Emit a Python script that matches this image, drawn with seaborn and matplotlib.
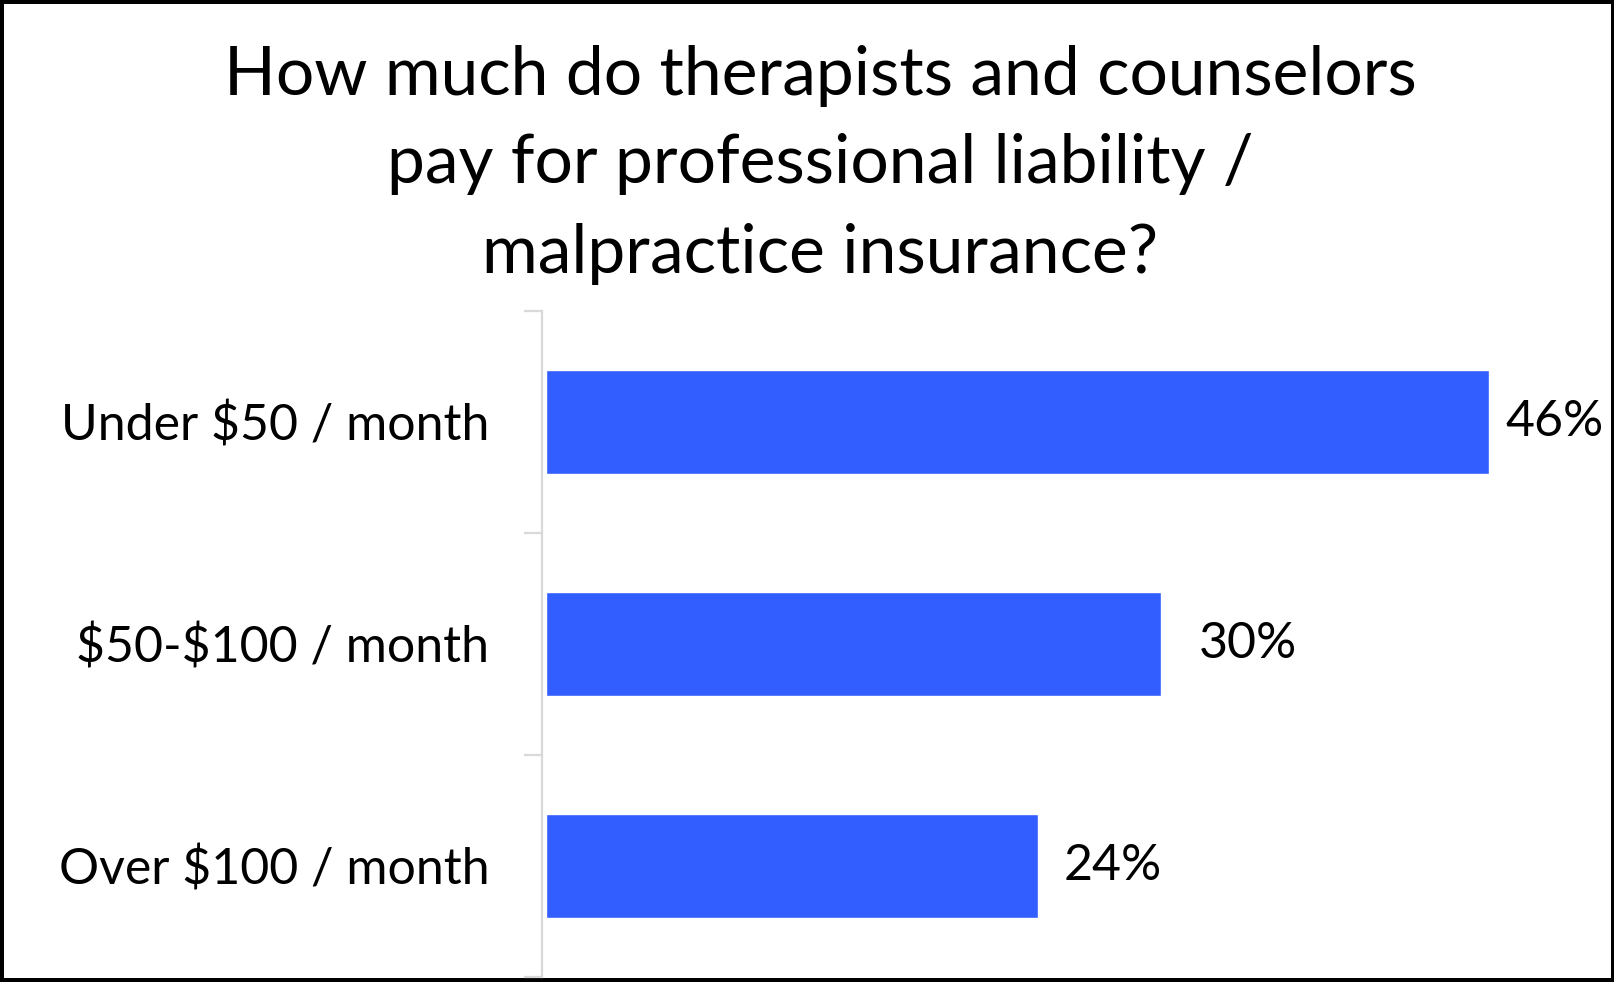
import matplotlib
matplotlib.use("Agg")
import matplotlib.pyplot as plt
from matplotlib.ticker import FixedLocator
import seaborn as sns
import pandas as pd

categories = ["Under $50 / month", "$50-$100 / month", "Over $100 / month"]
values = [46, 30, 24]
title_lines = ["How much do therapists and counselors",
               "pay for professional liability /",
               "malpractice insurance?"]

sns.set_theme(style="white")
plt.rcParams['font.family'] = ['Lato', 'DejaVu Sans']

W, H = 1615, 982
fig = plt.figure(figsize=(W / 100, H / 100), dpi=100)
fig.patch.set_edgecolor("black")
fig.patch.set_linewidth(4.5)

ax = fig.add_axes([542 / W, 1 - 977 / H, 1029 / W, (977 - 311) / H])
df = pd.DataFrame({"category": categories, "value": values})
sns.barplot(data=df, x="value", y="category", orient="h", color="#335EFF",
            saturation=1, width=0.465, ax=ax)

ax.set_xlim(-0.2, 50)
ax.set_ylim(2.5, -0.5)
ax.set_xlabel("")
ax.set_ylabel("")
ax.set_xticks([])
ax.set_yticks(range(len(categories)))
ax.set_yticklabels([c.replace("$", r"\$") for c in categories])
for s in ["top", "right", "bottom"]:
    ax.spines[s].set_visible(False)
ax.spines["left"].set_color("#d9d9d9")
ax.spines["left"].set_linewidth(1.6)

ax.yaxis.set_minor_locator(FixedLocator([-0.5, 0.5, 1.5, 2.5]))
ax.tick_params(axis="y", which="major", length=0, pad=38, labelsize=36, labelcolor="black")
ax.tick_params(axis="y", which="minor", length=13, width=1.6, color="#d9d9d9", left=True)

paddings = [11.5, 27, 18.5]
container = ax.containers[0]
for i, pad in enumerate(paddings):
    labs = [f"{v}%" if j == i else "" for j, v in enumerate(values)]
    ax.bar_label(container, labels=labs, padding=pad, fontsize=36, color="black")

baselines = [95, 183, 273]
for line, b in zip(title_lines, baselines):
    fig.text(820 / W, 1 - b / H, line, ha="center", va="baseline", fontsize=48.8, color="black")

fig.savefig("out.png", dpi=100)
